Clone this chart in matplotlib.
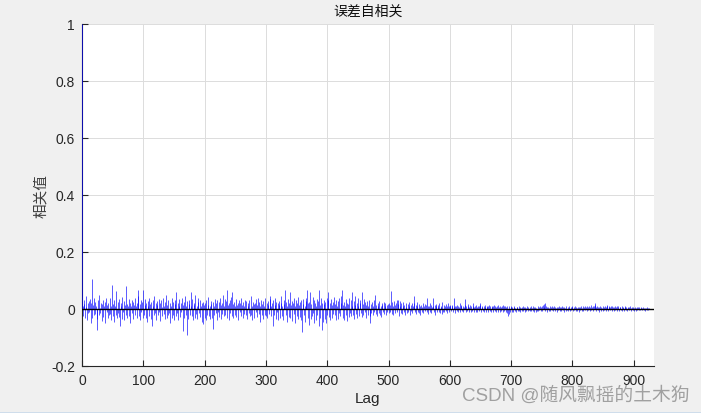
import numpy as np
import matplotlib
matplotlib.use("Agg")
import matplotlib.pyplot as plt
from matplotlib.lines import Line2D


plt.rcParams["font.family"] = ["Liberation Sans", "Noto Sans CJK SC", "DejaVu Sans"]
plt.rcParams["axes.unicode_minus"] = False

TITLE = "误差自相关"
X_LABEL = "Lag"
Y_LABEL = "相关值"
WATERMARK = "CSDN @随风飘摇的土木狗"

X_TICKS = [0, 100, 200, 300, 400, 500, 600, 700, 800, 900]
Y_TICKS = [-0.2, 0, 0.2, 0.4, 0.6, 0.8, 1]
X_MAX = 933

# autocorrelation values, in thousandths
acf_lag0 = [1000]
acf_001_100 = [
    12, -25, 18, 30, -33, 8, 45, -40, 22, -15,
    28, -12, 35, -48, 20, 105, -30, 15, -22, 40,
    -18, 25, 10, -35, -73, 30, -20, 48, -15, 5,
    22, -42, 18, 30, -28, 12, -50, 25, 38, -10,
    15, -32, 20, -22, 40, -18, 10, -38, 84, -25,
    18, 30, -45, 12, -20, 63, -30, 25, -15, 35,
    -28, -58, 20, 12, -35, 42, -10, 28, -40, 15,
    80, -22, 18, -30, 10, 35, -25, 20, -48, 12,
    30, -15, 25, -35, 15, 40, -20, 10, -30, 22,
    45, 68, -25, 18, -40, 30, -12, 25, -32, 67,
]
acf_101_200 = [
    -20, 35, 15, -30, 22, -45, 28, 10, -25, 40,
    18, -35, 25, -58, 12, 30, -20, 45, -15, 22,
    -38, 15, 28, -22, 35, -12, 20, -42, 30, 8,
    -25, 40, -18, 12, -35, 25, 50, -30, 15, -20,
    32, -15, -48, 22, 10, -32, 38, -20, 25, -40,
    18, 30, -25, 60, -15, 22, -38, 12, 35, -28,
    20, -12, 40, -78, 15, -30, 25, 45, -20, 10,
    -90, 28, -35, 18, 30, -22, 12, 60, -25, 35,
    -40, 15, 22, -30, 48, -18, 10, -35, 25, 40,
    -15, 30, -28, 12, 20, -45, -53, 25, 15, -30,
]
acf_201_300 = [
    22, -38, 30, -20, 15, 42, -25, 10, -35, 28,
    18, -30, -70, 25, 12, -22, 35, -15, 20, -40,
    30, -12, 25, -28, 40, 15, -35, 22, -18, 48,
    10, -25, 35, -20, 28, 68, -30, 15, 22, -38,
    30, -15, 42, 60, -25, 18, -32, 25, 12, -20,
    35, -28, 15, 22, -40, 30, -12, 20, -25, 38,
    15, -30, 25, -18, 10, 32, -22, 28, -35, 12,
    20, -15, 30, -25, 45, -20, 12, -38, 25, 18,
    -30, 22, 35, -12, 15, -28, 40, -18, 25, -45,
    10, 30, -22, 18, -35, 28, 12, -20, 38, -25,
]
acf_301_400 = [
    20, -30, 15, 28, -18, 35, 47, -25, 12, 22,
    -58, 30, -20, 15, 38, -35, 25, -12, 20, -40,
    28, 15, -30, 22, 45, -25, 10, -38, 30, 18,
    66, -20, 25, -45, 12, 35, -28, 20, 60, -30,
    15, -42, 28, 22, -18, 38, -50, 10, 30, -25,
    20, -35, 42, 15, -28, 25, -40, 30, -80, 18,
    35, -22, 12, -45, 28, 40, 65, -30, 20, -55,
    25, 60, -35, 18, -25, 42, -15, 30, -48, 20,
    12, -38, 35, -20, 28, -60, 67, 15, -30, 40,
    -75, 22, -45, 30, 18, -35, 25, -50, 38, -20,
]
acf_401_500 = [
    30, 60, -28, 20, -40, 35, 15, -30, 25, -18,
    42, -22, 18, -40, 30, 12, -35, 28, -15, 38,
    -25, 20, 45, 66, -30, 15, -38, 25, 10, -20,
    35, -42, 22, 18, -28, 40, -15, 30, -25, 12,
    60, -20, 28, -35, 15, 45, -18, 22, -30, 38,
    12, -25, 30, 20, -15, 60, -28, 18, -22, 35,
    -12, 25, -30, 15, 28, -20, 10, 32, -25, -48,
    18, -15, 25, 12, -22, 30, -10, 50, -18, 15,
    -25, 20, 12, -15, 28, -20, 10, -28, 22, 15,
    -12, 25, -18, 10, 20, -22, 15, -10, 18, -15,
]
acf_501_600 = [
    20, -12, 15, 63, -18, 25, 10, -20, 28, 15,
    -15, 22, 30, -10, 18, 32, -25, 12, 28, -15,
    20, -18, 10, 25, -12, 15, -20, 22, 8, -15,
    18, -10, 12, 25, -22, 15, -8, 20, -15, 10,
    22, 45, -12, 15, -18, 10, 25, -10, 18, -15,
    12, -20, 15, 8, -12, 22, -15, 10, 18, -8,
    15, -12, 40, 10, -18, 12, 20, -10, 15, -15,
    8, 12, 38, -10, 15, -20, 10, 18, -12, 8,
    15, -10, 20, -15, 12, 8, -18, 25, -10, 15,
    -12, 10, 18, -8, 12, -15, 20, 10, -12, 15,
]
acf_601_700 = [
    10, -8, 12, 15, -10, 8, 40, 12, -15, 10,
    -8, 15, 12, -10, 8, 20, -12, 10, 15, -8,
    12, -10, 8, 15, 35, -12, 10, -8, 12, 18,
    -10, 8, 15, -12, 10, -8, 12, 20, -10, 8,
    10, -12, 15, 8, -10, 12, -8, 10, 15, 22,
    -10, 8, 12, -8, 10, -12, 15, 8, -10, 12,
    8, -10, 12, 15, -8, 10, -12, 8, 12, -10,
    10, 15, -8, 12, -10, 8, 10, -12, 15, 8,
    -10, 12, 8, -8, 10, -12, 15, 10, -8, 12,
    -10, 8, -15, 12, -23, 10, -18, -12, 8, 10,
]
acf_701_800 = [
    -10, 8, -12, 6, 10, -8, 5, -10, 8, 6,
    -8, 10, -6, 8, -10, 5, 8, -6, 10, -8,
    6, -10, 8, 5, -8, 10, -6, 8, -5, 6,
    -8, 10, -6, 5, 12, -8, 6, -10, 8, -12,
    5, -8, 10, -6, 8, -5, 12, -8, 6, 10,
    -6, 15, 8, 18, 20, -8, 12, 6, -10, 8,
    5, -8, 10, -6, 8, 12, -5, 6, -8, 10,
    -6, 8, 5, -10, 6, 8, -5, 10, -8, 6,
    8, -6, 10, -5, 8, -10, 6, 5, -8, 10,
    -5, 8, -6, 10, 5, -8, 6, -5, 8, 10,
]
acf_801_925 = [
    -6, 8, -5, 10, -8, 6, 5, -6, 8, -10,
    6, -5, 8, 10, -6, 5, 12, -8, 6, -5,
    10, 8, -6, 12, -5, 8, 10, -8, 6, 15,
    -5, 8, 12, -6, 10, 15, 20, -8, 6, 10,
    -5, 8, -10, 6, 12, -6, 8, 5, -8, 10,
    6, -5, 12, 8, -6, 10, 15, -8, 6, 12,
    -5, 8, 10, -6, 12, 8, -8, 6, 10, -5,
    8, 12, -6, 5, 10, -8, 6, 8, -5, 10,
    -6, 8, 5, -8, 6, 10, -5, 8, -6, 5,
    8, -5, 6, 10, -8, 5, 6, -5, 8, -6,
    5, 8, -6, 5, -5, 6, 8, -5, 6, -4,
    5, 6, -5, 4, 8, -4, 5, -6, 4, 5,
    -4, 6, -5, 4, 5,
]


def build_acf():
    parts = [acf_lag0, acf_001_100, acf_101_200, acf_201_300, acf_301_400,
             acf_401_500, acf_501_600, acf_601_700, acf_701_800, acf_801_925]
    acf = np.concatenate([np.asarray(p, dtype=np.float64) for p in parts]) / 1000.0
    lags = np.arange(len(acf))
    return lags, acf


def plot_acf(lags, acf, out_png):
    fig = plt.figure(figsize=(7.01, 4.14), dpi=100, facecolor="#f0f0f0")
    ax = fig.add_axes([82 / 701, 47 / 414, 572 / 701, 342 / 414])
    ax.set_facecolor("white")

    ax.grid(True, color="#dcdcdc", linewidth=0.7)
    ax.set_axisbelow(True)

    # each lag drawn as a thin stroke from the zero line
    ax.vlines(lags, 0, acf, color="#0000ff", linewidth=0.45, zorder=3)
    ax.axhline(0, color="black", linewidth=1.0, zorder=4)

    ax.set_xlim(0, X_MAX)
    ax.set_ylim(-0.2, 1)
    ax.set_xticks(X_TICKS)
    ax.set_yticks(Y_TICKS)
    ax.set_yticklabels(["-0.2", "0", "0.2", "0.4", "0.6", "0.8", "1"])

    for side in ("top", "right"):
        ax.spines[side].set_visible(False)
    for side in ("left", "bottom"):
        ax.spines[side].set_color("#262626")
        ax.spines[side].set_linewidth(0.8)

    ax.tick_params(direction="in", length=4, width=0.8, colors="#262626",
                   labelsize=10, labelcolor="#262626")
    ax.tick_params(axis="x", pad=5)
    ax.tick_params(axis="y", pad=5)

    ax.set_title(TITLE, fontsize=10, color="#101010", pad=7)
    ax.set_xlabel(X_LABEL, fontsize=11, color="#262626", labelpad=3)
    ax.set_ylabel(Y_LABEL, fontsize=10.5, color="#404040", labelpad=2)

    fig.text(690 / 701, 18 / 414, WATERMARK, fontsize=13.5, color="#a0a0a0",
             ha="right", va="center")
    fig.add_artist(Line2D([0, 1], [0.5 / 414, 0.5 / 414], transform=fig.transFigure,
                          color="#4a90d9", linewidth=1.0))

    fig.savefig(out_png, dpi=100, facecolor=fig.get_facecolor())
    plt.close(fig)


if __name__ == "__main__":
    lags, acf = build_acf()
    plot_acf(lags, acf, "out.png")
